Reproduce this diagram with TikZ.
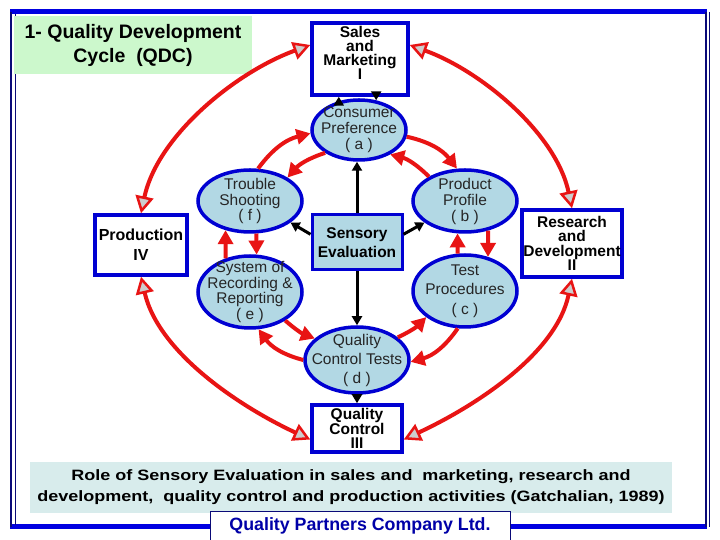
\documentclass[tikz,border=0pt]{standalone}
\usepackage{fontspec}
\setmainfont{Liberation Sans}
\newfontfamily\capfont{Liberation Sans}[FakeStretch=1.2]
\usetikzlibrary{arrows.meta,shapes.geometric}
\definecolor{qblue}{RGB}{0,0,210}
\definecolor{fblue}{RGB}{0,0,225}
\definecolor{navy}{RGB}{10,10,120}
\definecolor{qred}{RGB}{232,20,20}
\definecolor{qfill}{RGB}{178,216,228}
\definecolor{capfill}{RGB}{216,236,236}
\definecolor{titlefill}{RGB}{204,248,204}
\definecolor{tipgray}{RGB}{205,205,205}
\tikzset{
  RingTip/.tip={Triangle[length=17pt,width=18pt,line width=2.5pt,fill=tipgray]},
  RedTip/.tip={Triangle[length=14pt,width=15pt]},
  BlkTip/.tip={Triangle[length=9pt,width=10pt]},
  box/.style={draw=qblue,line width=3.5pt,fill=white,align=center,inner sep=0pt,font=\fontsize{15.5}{14}\selectfont\bfseries},
  oval/.style={ellipse,draw=qblue,line width=3.5pt,fill=qfill,align=center,inner sep=-14pt,text=black!85,font=\fontsize{15.5}{16}\selectfont},
  ring/.style={draw=qred,line width=4pt,RingTip-RingTip},
  redarr/.style={draw=qred,line width=4pt,-RedTip},
  blkarr/.style={draw=black,line width=3pt,-BlkTip}
}

\begin{document}
\begin{tikzpicture}[x=1pt,y=1pt]
\useasboundingbox (0,0) rectangle (720,540);
\fill[white] (0,0) rectangle (720,540);
% frame
\draw[line width=5pt,fblue] (10,528) -- (707,528);
\draw[line width=5pt,fblue] (10,13) -- (707,13);
\draw[line width=2pt,navy] (11,13) -- (11,528);
\draw[line width=1pt,navy] (15,15) -- (15,526);
\draw[line width=2pt,navy] (706,13) -- (706,528);
\draw[line width=1pt,navy] (709.5,13) -- (709.5,528);
% title and caption
\node[fill=titlefill,minimum width=238pt,minimum height=58pt,align=center,font=\fontsize{19.5}{24}\selectfont\bfseries] (title) at (133,495) {1- Quality Development\\Cycle\ \ (QDC)};
\node[fill=capfill,minimum width=642pt,minimum height=51pt,align=center,font=\capfont\bfseries\fontsize{15}{21}\selectfont] (caption) at (351,52.5) {Role of Sensory Evaluation in sales and\ \ marketing, research and\\development,\ \ quality control and production activities (Gatchalian, 1989)};
\node[draw=navy,line width=1pt,fill=white,anchor=north,minimum width=300pt,inner sep=0pt,text height=19pt,text depth=20pt,text=qblue!80!black,font=\fontsize{17.8}{20}\selectfont\bfseries] (partners) at (360,29) {Quality Partners Company Ltd.};
% boxes
\node[box,minimum width=96pt,minimum height=72pt,text depth=13pt] (sales) at (360,481) {Sales\\and\\Marketing\\I};
\node[box,minimum width=92pt,minimum height=60pt,font=\fontsize{16}{20}\selectfont\bfseries] (production) at (141,295) {Production\\IV};
\node[box,minimum width=100pt,minimum height=67pt,font=\fontsize{15.5}{14.5}\selectfont\bfseries] (research) at (572,296.5) {Research\\and\\Development\\II};
\node[box,minimum width=90pt,minimum height=47pt] (qc) at (357,111.5) {Quality\\Control\\III};
\node[box,fill=qfill,line width=3pt,minimum width=90pt,minimum height=55pt,font=\fontsize{15.5}{19}\selectfont\bfseries] (sensory) at (357,297.5) {Sensory\\Evaluation};
% ellipses
\node[oval,minimum width=94pt,minimum height=60pt] (consumer) at (359,410) {Consumer\\Preference\\( a )};
\node[oval,minimum width=104pt,minimum height=62pt,font=\fontsize{15.5}{15.5}\selectfont] (trouble) at (250,339) {Trouble\\Shooting\\( f )};
\node[oval,minimum width=104pt,minimum height=62pt] (product) at (465,339) {Product\\Profile\\( b )};
\node[oval,minimum width=104pt,minimum height=72pt,font=\fontsize{15.5}{13.5}\selectfont] (system) at (250,248) {System of\\Recording \&\\Reporting\\( e )};
\node[oval,minimum width=104pt,minimum height=72pt,font=\fontsize{15.5}{19.5}\selectfont] (test) at (465,249) {Test\\Procedures\\( c )};
\node[oval,minimum width=104pt,minimum height=66pt,font=\fontsize{15.5}{19}\selectfont] (qct) at (357,180) {Quality\\Control Tests\\( d )};
% outer cycle
\draw[ring] (production.north) to[out=78,in=200,looseness=0.85] ([yshift=14pt]sales.west);
\draw[ring] ([yshift=14pt]sales.east) to[out=-20,in=102,looseness=0.85] (research.north);
\draw[ring] (research.south) to[out=258,in=25,looseness=0.85] ([yshift=-11pt]qc.east);
\draw[ring] ([yshift=-11pt]qc.west) to[out=155,in=283,looseness=0.85] (production.south);
% inner cycle
\draw[redarr] (trouble.76) to[bend left=20] (consumer.184);
\draw[redarr] (consumer.214) to[bend right=15] (trouble.32);
\draw[redarr] (consumer.352) to[bend left=20] (product.104);
\draw[redarr] (product.146) to[bend right=15] (consumer.322);
\draw[redarr] (trouble.281) -- (system.80);
\draw[redarr] (system.126) -- (trouble.230);
\draw[redarr] (test.101) -- (product.257);
\draw[redarr] (product.308) -- (test.56);
\draw[redarr] (system.321) to[bend right=10] (qct.153);
\draw[redarr] (qct.180) to[bend left=20] (system.283);
\draw[redarr] (qct.29) to[bend right=10] (test.214);
\draw[redarr] (test.259) to[bend left=20] (qct.358);
% sensory evaluation links
\draw[blkarr] (consumer.125) -- (consumer.125 |- sales.south);
\draw[blkarr] (consumer.60 |- sales.south) -- (consumer.60);
\draw[blkarr] (sensory.north) -- (sensory.north |- consumer.south);
\draw[blkarr] (sensory.south) -- (qct.north);
\draw[blkarr] (qct.south) -- (qc.north);
\draw[blkarr] (sensory.170) -- (trouble.332);
\draw[blkarr] (sensory.10) -- (product.208);
\end{tikzpicture}
\end{document}
